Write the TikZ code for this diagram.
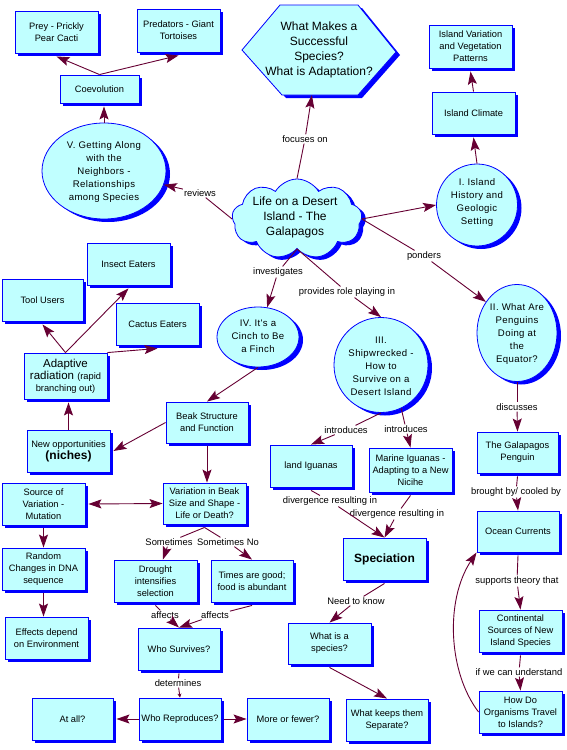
\documentclass[tikz,border=0pt]{standalone}
\usepackage{fontspec}
\setmainfont{Liberation Sans}
\newfontfamily\spaced[LetterSpace=4]{Liberation Sans}
\usetikzlibrary{shapes.geometric,shapes.symbols,shadows,arrows.meta,calc}
\definecolor{boxfill}{HTML}{C0FFFF}
\definecolor{boxline}{HTML}{0000FF}
\definecolor{linkcol}{HTML}{660033}
\tikzset{
 shad/.style={drop shadow={shadow xshift=3pt, shadow yshift=-3pt, fill=boxline, opacity=1}},
 eshad/.style={drop shadow={shadow xshift=4pt, shadow yshift=-3pt, fill=boxline, opacity=1}},
 cbox/.style={rectangle, draw=boxline, fill=boxfill, line width=0.9pt, shad, align=center, inner sep=1pt, font=\fontsize{9.3}{12}\selectfont},
 sz/.style 2 args={minimum width=#1pt, minimum height=#2pt},
 cell/.style={ellipse, draw=boxline, fill=boxfill, line width=0.8pt, eshad, inner sep=0pt},
 etext/.style={align=center, inner sep=0pt, font=\spaced\fontsize{9.6}{13}\selectfont},
 bigtext/.style={align=center, inner sep=0pt, font=\fontsize{12}{15}\selectfont},
 lbl/.style={fill=white, inner sep=1pt, font=\fontsize{9.4}{11}\selectfont},
 link/.style={draw=linkcol, line width=0.9pt},
 tip/.tip={Stealth[length=13pt,width=9pt,inset=2.5pt]},
 arr/.style={link, -tip},
}
\begin{document}
\begin{tikzpicture}[x=1pt,y=-1pt]
\useasboundingbox (0,0) rectangle (566,750);

% ---------- boxes ----------
\node[cbox, sz={83}{42}] (prey) at (56.5,32) {Prey - Prickly\\Pear Cacti};
\node[cbox, sz={83}{43}] (pred) at (178.5,30.5) {Predators - Giant\\Tortoises};
\node[cbox, sz={79}{28}] (coev) at (99.5,89) {Coevolution};
\node[cbox, sz={83}{43}] (ivar) at (470.5,46.5) {Island Variation\\and Vegetation\\Patterns};
\node[cbox, sz={83}{42}] (iclim) at (473.5,113) {Island Climate};
\node[cbox, sz={83}{42}] (insect) at (128.5,264) {Insect Eaters};
\node[cbox, sz={81}{42}] (tool) at (42.5,300) {Tool Users};
\node[cbox, sz={83}{42}] (cactus) at (157.5,324) {Cactus Eaters};
\node[cbox, sz={83}{46}] (adapt) at (65.5,376) {\fontsize{11.5}{14}\selectfont Adaptive\\\fontsize{11.5}{14}\selectfont radiation \fontsize{9.3}{12}\selectfont(rapid\\\fontsize{9.3}{12}\selectfont branching out)};
\node[cbox, sz={82}{41}] (beak) at (207,422.5) {Beak Structure\\and Function};
\node[cbox, sz={83}{42}] (newopp) at (68.5,451) {New opportunities\\\bfseries\fontsize{12}{14}\selectfont (niches)};
\node[cbox, sz={82}{42}] (land) at (311,466) {land Iguanas};
\node[cbox, sz={83}{44}] (marine) at (410.5,470) {Marine Iguanas -\\Adapting to a New\\Nicihe};
\node[cbox, sz={81}{41}] (penguin) at (517.5,452.5) {The Galapagos\\Penguin};
\node[cbox, sz={83}{42}] (source) at (43.5,504) {Source of\\Variation -\\Mutation};
\node[cbox, sz={83}{41}] (var) at (204.5,503.5) {Variation in Beak\\Size and Shape -\\Life or Death?};
\node[cbox, sz={83}{42}] (random) at (43.5,569) {Random\\Changes in DNA\\sequence};
\node[cbox, sz={83}{42}] (effects) at (46.5,638) {Effects depend\\on Environment};
\node[cbox, sz={83}{42}] (drought) at (155.5,581) {Drought\\intensifies\\selection};
\node[cbox, sz={82}{42}] (times) at (252,581) {Times are good;\\food is abundant};
\node[cbox, sz={82}{42}] (survive) at (179,649) {Who Survives?};
\node[cbox, sz={82}{42}] (repro) at (180,719) {Who Reproduces?};
\node[cbox, sz={81}{42}] (atall) at (72.5,719) {At all?};
\node[cbox, sz={82}{42}] (more) at (288,719) {More or fewer?};
\node[cbox, sz={83}{42}, font=\bfseries\fontsize{12}{14}\selectfont] (spec) at (384.5,559) {Speciation};
\node[cbox, sz={83}{41}] (whatis) at (329.5,643.5) {What is a\\species?};
\node[cbox, sz={82}{42}] (keeps) at (387,720) {What keeps them\\Separate?};
\node[cbox, sz={82}{41}] (ocean) at (518,531.5) {Ocean Currents};
\node[cbox, sz={83}{42}] (cont) at (520.5,631) {Continental\\Sources of New\\Island Species};
\node[cbox, sz={83}{42}] (howdo) at (520.5,712) {How Do\\Organisms Travel\\to Islands?};

% ---------- ellipses ----------
\node[cell, sz={124}{96}] (vell) at (104,171) {};
\node[etext] (vellt) at (104,172) {V. Getting Along\\with the\\Neighbors -\\Relationships\\among Species};
\node[cell, sz={81}{82}] (ihist) at (477,205) {};
\node[etext] (ihistt) at (477,203) {I. Island\\History and\\Geologic\\Setting};
\node[cell, sz={82}{60}] (iv) at (258,337) {};
\node[etext] (ivt) at (258,336) {IV. It's a\\Cinch to Be\\a Finch};
\node[cell, sz={94}{95}] (iii) at (381,365) {};
\node[etext] (iiit) at (381,366) {III.\\Shipwrecked -\\How to\\Survive on a\\Desert Island};
\node[cell, sz={80}{97}] (ii) at (517,333) {};
\node[etext] (iit) at (517,334) {II. What Are\\Penguins\\Doing at\\the\\Equator?};

% ---------- cloud ----------
\node[cloud, cloud puffs=9, cloud puff arc=120, cloud ignores aspect, draw=boxline, fill=boxfill, line width=0.8pt, eshad, inner sep=0pt, sz={130}{80}] (cloud) at (297,219) {};
\node[bigtext] (cloudt) at (295,217) {Life on a Desert\\Island - The\\Galapagos};

% ---------- hexagon ----------
\node[inner sep=0pt, sz={154}{90}] (hex) at (319,50) {};
\draw[draw=boxline, fill=boxfill, line width=0.8pt, drop shadow={shadow xshift=4pt, shadow yshift=-3pt, fill=boxline, opacity=1}]
  ([xshift=-77pt]hex.center) -- ([xshift=-39pt,yshift=45pt]hex.center) -- ([xshift=39pt,yshift=45pt]hex.center)
  -- ([xshift=77pt,yshift=-2pt]hex.center) -- ([xshift=39pt,yshift=-45pt]hex.center) -- ([xshift=-37pt,yshift=-45pt]hex.center) -- cycle;
\node[bigtext] (hext) at (319,49.5) {What Makes a\\Successful\\Species?\\What is Adaptation?};

% ---------- link labels ----------
\node[lbl] (lrev) at (200,193) {reviews};
\node[lbl] (lfoc) at (305,139) {focuses on};
\node[lbl] (lpon) at (424,256) {ponders};
\node[lbl] (linv) at (278,272) {investigates};
\node[lbl] (lrole) at (347,292) {provides role playing in};
\node[lbl] (lint1) at (346,430) {introduces};
\node[lbl] (lint2) at (406,429) {introduces};
\node[lbl] (ldisc) at (517,407) {discusses};
\node[lbl] (ldiv1) at (330,501) {divergence resulting in};
\node[lbl] (ldiv2) at (397,514) {divergence resulting in};
\node[lbl] (lbro) at (516,492) {brought by/ cooled by};
\node[lbl] (lsup) at (517,581) {supports theory that};
\node[lbl] (lif) at (519,672) {if we can understand};
\node[lbl] (lneed) at (356,601) {Need to know};
\node[lbl] (lsom) at (169,542) {Sometimes};
\node[lbl] (lsno) at (228,542) {Sometimes No};
\node[lbl] (laff1) at (165,615) {affects};
\node[lbl] (laff2) at (215,615) {affects};
\node[lbl] (ldet) at (178,683) {determines};

% ---------- connectors ----------
\draw[arr] (coev.north) -- ([yshift=-3pt]prey.south);
\draw[arr] (coev.north) -- ([yshift=-3pt]pred.south);
\draw[arr] (vell.north) -- ($(vell.north |- coev.south)+(0,3)$);
\draw[link] (cloud.west) -- (lrev);
\draw[arr] (lrev) -- (vell);
\draw[link] (cloud.north) -- (lfoc);
\draw[arr] (lfoc) -- (hex);
\draw[link] (cloud.east) -- (lpon);
\draw[arr] (lpon) -- (ii.135);
\draw[arr] (cloud.east) -- (ihist.west);
\draw[arr] (ihist.north) -- ([yshift=-3pt]iclim.south);
\draw[arr] (iclim.north) -- ([yshift=-3pt]ivar.south);
\draw[link] (cloud.south) -- (linv);
\draw[arr] (linv) -- (iv);
\draw[link] (cloud.south) -- (lrole);
\draw[arr] (lrole) -- (iii.north);
\draw[arr] (iv.south) -- (beak.north);
\draw[arr] (beak.west) -- ([xshift=3pt]newopp.east);
\draw[arr] ([yshift=-3pt]beak.south) -- (var.north -| beak.south);
\draw[arr] (newopp.north) -- ($(adapt.south -| newopp.north)+(0,3)$);
\draw[arr] (adapt.north) -- ([yshift=-3pt]tool.south);
\draw[arr] (adapt.north) -- ([yshift=-3pt]insect.south);
\draw[arr] (adapt.north east) -- ([yshift=-3pt]cactus.south);
\draw[link, tip-tip] ([xshift=3pt]source.east) -- (var.west);
\draw[arr] ([yshift=-3pt]source.south) -- (random.north);
\draw[arr] ([yshift=-3pt]random.south) -- (effects.north -| random.south);
\draw[link] ([yshift=-3pt]var.south) -- (lsom);
\draw[arr] (lsom) -- (drought);
\draw[link] ([yshift=-3pt]var.south) -- (lsno);
\draw[arr] (lsno) -- (times.north);
\draw[link] ([yshift=-3pt]drought.south) -- (laff1);
\draw[arr] (laff1) -- (survive.north);
\draw[link] ([yshift=-3pt]times.south) -- (laff2);
\draw[arr] (laff2) -- (survive.north);
\draw[link] ([yshift=-3pt]survive.south) -- (ldet);
\draw[link, -{Stealth[length=4pt,width=4pt]}] (ldet) -- (repro.north);
\draw[arr] (repro.west) -- ([xshift=3pt]atall.east);
\draw[arr] ([xshift=3pt]repro.east) -- (more.west);
\draw[link] (iii.south) -- (lint1);
\draw[arr] (lint1) -- (land.north);
\draw[link] (iii.295) -- (lint2);
\draw[arr] (lint2) -- (marine.north);
\draw[link] ([yshift=-3pt]land.south) -- (ldiv1);
\draw[arr] (ldiv1) -- (spec.north);
\draw[link] ([yshift=-3pt]marine.south) -- (ldiv2);
\draw[arr] (ldiv2) -- (spec.north);
\draw[link] ([yshift=-3pt]spec.south) -- (lneed);
\draw[arr] (lneed) -- (whatis.north);
\draw[arr] ([yshift=-3pt]whatis.south) -- (keeps.north);
\draw[link] (ii.south) -- (ldisc);
\draw[arr] (ldisc) -- (penguin.north);
\draw[link] ([yshift=-3pt]penguin.south) -- (lbro);
\draw[arr] (lbro) -- (ocean.north);
\draw[link] ([yshift=-3pt]ocean.south) -- (lsup);
\draw[arr] (lsup) -- (cont.north);
\draw[link] ([yshift=-3pt]cont.south) -- (lif);
\draw[arr] (lif) -- (howdo.north);
\draw[arr] (howdo.west) .. controls (448,672) and (445,600) .. (ocean.south west);
\end{tikzpicture}
\end{document}
